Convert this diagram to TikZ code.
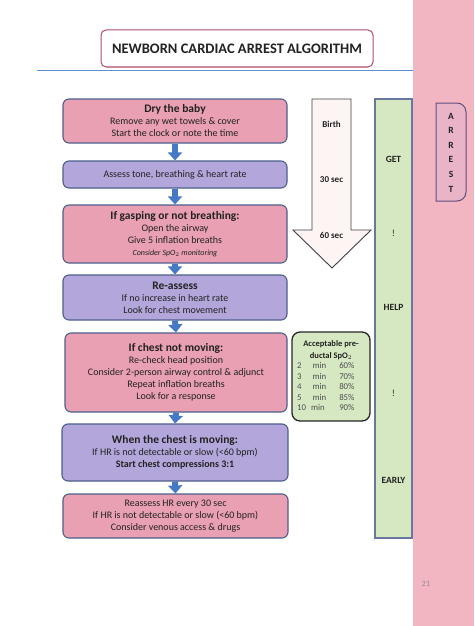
\documentclass[tikz,border=0pt]{standalone}
\usepackage{fontspec}
\setmainfont{Carlito}
\usetikzlibrary{arrows.meta}
\definecolor{strip}{HTML}{F2B6C3}
\definecolor{pinkbox}{HTML}{E8A0B2}
\definecolor{purplebox}{HTML}{B3A6DB}
\definecolor{boxline}{HTML}{4C5F8C}
\definecolor{greenbox}{HTML}{D6E8C2}
\definecolor{flowblue}{HTML}{4679C5}
\definecolor{titleline}{HTML}{B14A67}
\definecolor{rulecol}{HTML}{5E8FCF}
\definecolor{timefill}{HTML}{FDF5F3}
\definecolor{txt}{HTML}{222222}
\begin{document}
\begin{tikzpicture}[x=1pt,y=-1pt,
  flowbox/.style={draw=boxline, line width=1.1pt, rounded corners=6pt, minimum width=224pt, align=center, text=txt, inner sep=0pt, font=\fontsize{10}{12}\selectfont},
  pinkstep/.style={flowbox, fill=pinkbox},
  purplestep/.style={flowbox, fill=purplebox},
  flowarrow/.style={draw=flowblue, line width=6pt, -{Triangle[width=14pt,length=8pt]}},
  sidelabel/.style={font=\fontsize{9.5}{11}\selectfont\bfseries, text=txt},
  timelabel/.style={font=\fontsize{9}{11}\selectfont\bfseries, text=txt}
]
\useasboundingbox (0,0) rectangle (474,626);
% right strip
\fill[strip] (413,0) rectangle (474,626);
% title
\draw[rulecol, line width=1pt] (37,70) -- (413,70);
\node[draw=titleline, line width=1pt, rounded corners=5pt, fill=white, minimum width=272pt, minimum height=37pt, inner sep=0pt, font=\fontsize{14.5}{16}\selectfont\bfseries, text=txt] (title) at (237,48.5) {NEWBORN CARDIAC ARREST ALGORITHM};

% flow boxes
\node[pinkstep, minimum height=44pt] (b1) at (175,121) {{\fontsize{11.5}{12}\selectfont\bfseries Dry the baby}\\Remove any wet towels \& cover\\Start the clock or note the time};
\node[purplestep, minimum height=27pt] (b2) at (175,174.5) {Assess tone, breathing \& heart rate};
\node[pinkstep, minimum height=58pt] (b3) at (175,234) {{\fontsize{11.5}{12}\selectfont\bfseries If gasping or not breathing:}\\Open the airway\\Give 5 inflation breaths\\{\fontsize{8}{10}\selectfont\itshape Consider SpO$_2$ monitoring}};
\node[purplestep, minimum height=45pt] (b4) at (175,297.5) {{\fontsize{11.5}{12}\selectfont\bfseries Re-assess}\\If no increase in heart rate\\Look for chest movement};
\node[pinkstep, minimum height=79pt, minimum width=222pt] (b5) at (176,372.5) {{\fontsize{11.5}{12.5}\selectfont\bfseries If chest not moving:}\\Re-check head position\\Consider 2-person airway control \& adjunct\\Repeat inflation breaths\\Look for a response};
\node[purplestep, minimum height=57pt, minimum width=226pt] (b6) at (175,452.5) {{\fontsize{11.5}{12.5}\selectfont\bfseries When the chest is moving:}\\If HR is not detectable or slow (<60 bpm)\\{\bfseries Start chest compressions 3:1}};
\node[pinkstep, minimum height=44pt, minimum width=225pt] (b7) at (175.5,516) {Reassess HR every 30 sec\\If HR is not detectable or slow (<60 bpm)\\Consider venous access \& drugs};

\draw[flowarrow] (b1.south) -- (b2.north);
\draw[flowarrow] (b2.south) -- (b3.north);
\draw[flowarrow] (b3.south) -- (b4.north);
\draw[flowarrow] (b4.south) -- (b5.north);
\draw[flowarrow] (b5.south) -- (b6.north);
\draw[flowarrow] (b6.south) -- (b7.north);

% time arrow
\draw[fill=timefill, draw=black!75, line width=0.9pt] (312,99) -- (351,99) -- (351,230) -- (371,230) -- (332,268) -- (293,230) -- (312,230) -- cycle;
\node[timelabel] (birth) at (331.5,124) {Birth};
\node[timelabel] (t30) at (331.5,180) {30 sec};
\node[timelabel] (t60) at (331.5,235) {60 sec};

% green column
\draw[fill=greenbox, draw=boxline!85, line width=1.1pt] (375,99) rectangle (412,538);
\node[sidelabel] (get) at (393.5,159) {GET};
\node[font=\fontsize{9.5}{11}\selectfont, text=txt] (ex1) at (393.5,233) {!};
\node[sidelabel] (help) at (393.5,307) {HELP};
\node[font=\fontsize{9.5}{11}\selectfont, text=txt] (ex2) at (393.5,393) {!};
\node[sidelabel] (early) at (393.5,480) {EARLY};

% ARREST box
\draw[fill=strip!85!purplebox, draw=boxline!80!purple, line width=1pt] (436,103) -- (457,103) .. controls (462,103) and (466,107) .. (466,112) -- (466,192) .. controls (466,197) and (462,201) .. (457,201) -- (436,201) -- cycle;
\node[font=\fontsize{9.5}{14.6}\selectfont\bfseries, text=txt, align=center] (arrest) at (451,152.5) {A\\R\\R\\E\\S\\T};

% SpO2 box
\node[draw=black!85, line width=1.3pt, fill=greenbox, rounded corners=8pt, minimum width=78pt, minimum height=89pt, inner sep=0pt] (spo) at (331,376.5) {};
\node[font=\fontsize{8.5}{11.5}\selectfont\bfseries, text=txt, align=center] (spohead) at (331,350) {Acceptable pre-\\ductal SpO$_2$};
\node[anchor=north west, inner sep=0pt, font=\fontsize{8.8}{10.5}\selectfont, text=txt!80] (spotab) at (297,361) {\begin{tabular}{@{}l@{\hspace{5pt}}l@{\hspace{13pt}}l@{}}2&\,min&60\%\\3&\,min&70\%\\4&\,min&80\%\\5&\,min&85\%\\10&min&90\%\end{tabular}};

% page number
\node[font=\fontsize{8}{10}\selectfont, text=black!45] (page) at (426,584) {21};
\end{tikzpicture}
\end{document}
